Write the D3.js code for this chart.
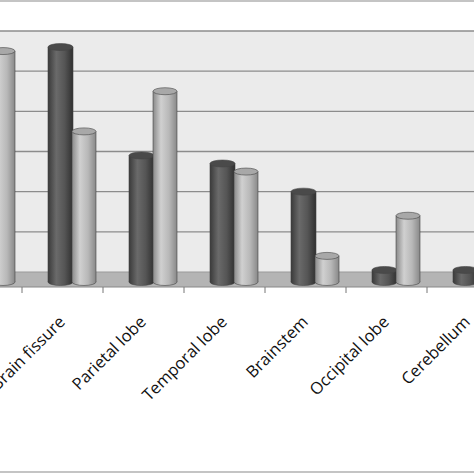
<!DOCTYPE html><html><head><meta charset="utf-8"><script src="https://cdn.jsdelivr.net/npm/d3@7"></script>
<style>body{margin:0;background:#fff}</style></head><body><svg id="c" width="474" height="474"></svg>
<script>
const categories=["Frontal lobe","Brain fissure","Parietal lobe","Temporal lobe","Brainstem","Occipital lobe","Cerebellum"];
const seriesDark=[62,58,31,29,22,2.5,2.5];
const seriesLight=[57,37,47,27,6,16,0];
const gridTicks=[0,10,20,30,40,50,60];
const svg=d3.select("#c");
const x=d3.scaleBand().domain(categories).range([-59,508]);
const y=d3.scaleLinear().domain([0,60]).range([272,31]);
const defs=svg.append("defs");
function grad(id,stops){const g=defs.append("linearGradient").attr("id",id);stops.forEach((c,i)=>g.append("stop").attr("offset",i/(stops.length-1)).attr("stop-color",c));}
grad("gd",["#3a3a3a","#6a6a6a","#555","#303030"]);
grad("gl",["#8a8a8a","#d0d0d0","#b8b8b8","#888"]);
svg.append("line").attr("x1",0).attr("x2",474).attr("y1",1).attr("y2",1).attr("stroke","#c4c4c4").attr("stroke-width",2);
svg.append("line").attr("x1",0).attr("x2",474).attr("y1",472).attr("y2",472).attr("stroke","#c4c4c4").attr("stroke-width",2);
svg.append("rect").attr("x",0).attr("y",y(60)).attr("width",474).attr("height",y(0)-y(60)).attr("fill","#ebebeb");
svg.append("rect").attr("x",0).attr("y",y(0)).attr("width",474).attr("height",15).attr("fill","#b4b4b4");
svg.selectAll(".g").data(gridTicks.slice(1)).join("line").attr("x1",0).attr("x2",474).attr("y1",d=>y(d)).attr("y2",d=>y(d)).attr("stroke","#8c8c8c").attr("stroke-width",1.3);
svg.append("line").attr("x1",0).attr("x2",474).attr("y1",y(0)).attr("y2",y(0)).attr("stroke","#999");
svg.append("line").attr("x1",0).attr("x2",474).attr("y1",y(0)+15).attr("y2",y(0)+15).attr("stroke","#888");
const base=y(0)+10, off=8;
function cyl(x0,w,v,fill,top){
  if(v<=0)return;
  const yt=y(v)+off, rx=w/2, ry=3.5;
  const g=svg.append("g");
  g.append("ellipse").attr("cx",x0+rx).attr("cy",base).attr("rx",rx).attr("ry",ry).attr("fill",fill).attr("stroke","#444").attr("stroke-width",0.6);
  g.append("rect").attr("x",x0).attr("y",yt).attr("width",w).attr("height",base-yt).attr("fill",fill);
  g.append("line").attr("x1",x0).attr("x2",x0).attr("y1",yt).attr("y2",base).attr("stroke","#444").attr("stroke-width",0.6);
  g.append("line").attr("x1",x0+w).attr("x2",x0+w).attr("y1",yt).attr("y2",base).attr("stroke","#444").attr("stroke-width",0.6);
  g.append("ellipse").attr("cx",x0+rx).attr("cy",yt).attr("rx",rx).attr("ry",ry).attr("fill",top).attr("stroke","#444").attr("stroke-width",0.6);
}
categories.forEach((c,i)=>{
  const b=x(c);
  cyl(b+26,25,seriesDark[i],"url(#gd)","#4a4a4a");
  cyl(b+50,24,seriesLight[i],"url(#gl)","#a8a8a8");
});
svg.selectAll(".t").data(categories.concat(["end"])).join("line")
  .attr("x1",(d,i)=>-59+i*81).attr("x2",(d,i)=>-59+i*81).attr("y1",y(0)+15).attr("y2",y(0)+21).attr("stroke","#777");
svg.selectAll(".l").data(categories).join("text")
  .attr("transform",d=>`translate(${x(d)+44},${323}) rotate(-45)`)
  .attr("text-anchor","end").attr("font-family","Open Sans, sans-serif").attr("font-size",16.5).attr("fill","#111").text(d=>d);
</script></body></html>
